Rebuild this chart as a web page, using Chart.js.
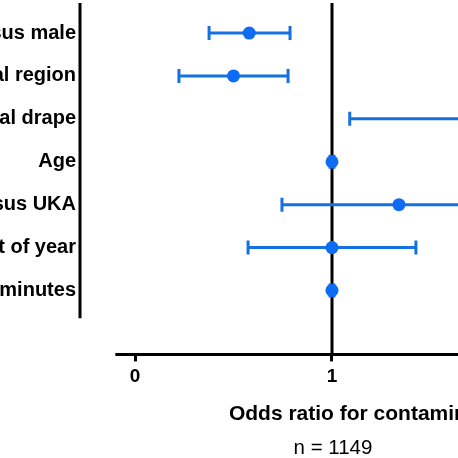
<!DOCTYPE html>
<html>
<head>
<meta charset="utf-8">
<script src="https://cdn.jsdelivr.net/npm/chart.js@4"></script>
<style>
  html, body { margin: 0; padding: 0; background: #fff; overflow: hidden; }
  #wrap { position: absolute; left: 0; top: 0; }
</style>
</head>
<body>
<div id="wrap"><canvas id="forest" width="666" height="458"></canvas></div>
<script>
// rows, top to bottom
const rowLabels = [
  'Female versus male',
  'Surgical region',
  'Incisional drape',
  'Age',
  'TKA versus UKA',
  'Warm part of year',
  'Surgery time in minutes'
];
// odds ratios with 95% CI
const oddsRatio = [0.58, 0.50, 1.90, 1.00, 1.34, 1.00, 1.00];
const ciLower   = [0.376, 0.223, 1.09, 0.99, 0.746, 0.574, 0.99];
const ciUpper   = [0.787, 0.777, 2.70, 1.01, 1.93, 1.426, 1.01];

const xTicks = [0, 1, 2];
const xTitle = 'Odds ratio for contamination';
const nText = 'n = 1149';

const blue = '#1570e0';
const dotBlue = '#0d6cf2';
Chart.defaults.font.family = "'Liberation Sans', Arial, sans-serif";

// one dataset per whisker, caps drawn as rotated line points
const ciSets = rowLabels.map((lbl, i) => ({
  label: lbl,
  data: [{ x: ciLower[i], y: i + 1 }, { x: ciUpper[i], y: i + 1 }],
  showLine: true,
  borderColor: blue,
  borderWidth: 3,
  pointStyle: 'line',
  rotation: 90,
  pointRadius: 7,
  pointBorderWidth: 3,
  pointBorderColor: blue,
  order: 1
}));

const pointSet = {
  label: 'OR',
  data: oddsRatio.map((v, i) => ({ x: v, y: i + 1 })),
  pointRadius: 6.5,
  backgroundColor: dotBlue,
  borderColor: dotBlue,
  pointBorderWidth: 0,
  order: 0
};

// Prism-style detached axes + reference line at OR = 1
const axisLines = {
  id: 'axisLines',
  beforeDatasetsDraw(chart) {
    const { ctx, chartArea: a, scales: { x, y } } = chart;
    ctx.save();
    ctx.strokeStyle = '#000';
    ctx.lineWidth = 3;
    ctx.beginPath();
    ctx.moveTo(a.left, a.top);
    ctx.lineTo(a.left, y.getPixelForValue(rowLabels.length + 0.65));
    ctx.moveTo(x.getPixelForValue(-0.1), a.bottom);
    ctx.lineTo(a.right, a.bottom);
    ctx.stroke();
    ctx.beginPath();
    ctx.moveTo(x.getPixelForValue(1), a.top);
    ctx.lineTo(x.getPixelForValue(1), a.bottom);
    ctx.stroke();
    ctx.restore();
  }
};

new Chart(document.getElementById('forest'), {
  type: 'scatter',
  data: { datasets: [pointSet, ...ciSets] },
  options: {
    responsive: false,
    animation: false,
    events: [],
    layout: { autoPadding: false, padding: { top: 3, right: 0, bottom: 0, left: 0 } },
    plugins: {
      legend: { display: false },
      tooltip: { enabled: false },
      subtitle: {
        display: true,
        text: nText,
        position: 'bottom',
        color: '#000',
        font: { size: 20.5, weight: 'normal' },
        padding: { top: 0, bottom: -3 }
      }
    },
    scales: {
      x: {
        type: 'linear',
        min: -0.2792,
        max: 2.6955,
        afterBuildTicks: s => { s.ticks = xTicks.map(v => ({ value: v })); },
        afterFit: s => { s.height = 82; s.paddingLeft = 0; s.paddingRight = 0; },
        grid: { drawOnChartArea: false, drawTicks: true, tickLength: 7, lineWidth: 3, color: '#000' },
        border: { display: false },
        ticks: { color: '#000', font: { size: 19, weight: 'bold' }, padding: 4, maxRotation: 0, autoSkip: false },
        title: {
          display: true,
          text: xTitle,
          color: '#000',
          font: { size: 21, weight: 'bold' },
          padding: { top: 2, bottom: 10 }
        }
      },
      y: {
        type: 'linear',
        reverse: true,
        min: 0.3,
        max: 8.49,
        afterBuildTicks: s => { s.ticks = rowLabels.map((_, i) => ({ value: i + 1 })); },
        afterFit: s => { s.width = 80; s.paddingTop = 0; s.paddingBottom = 0; },
        grid: { display: false, drawTicks: false },
        border: { display: false },
        ticks: {
          autoSkip: false,
          color: '#000',
          padding: 4,
          font: { size: 20, weight: 'bold' },
          callback: v => rowLabels[v - 1]
        }
      }
    }
  },
  plugins: [axisLines]
});
</script>
</body>
</html>
